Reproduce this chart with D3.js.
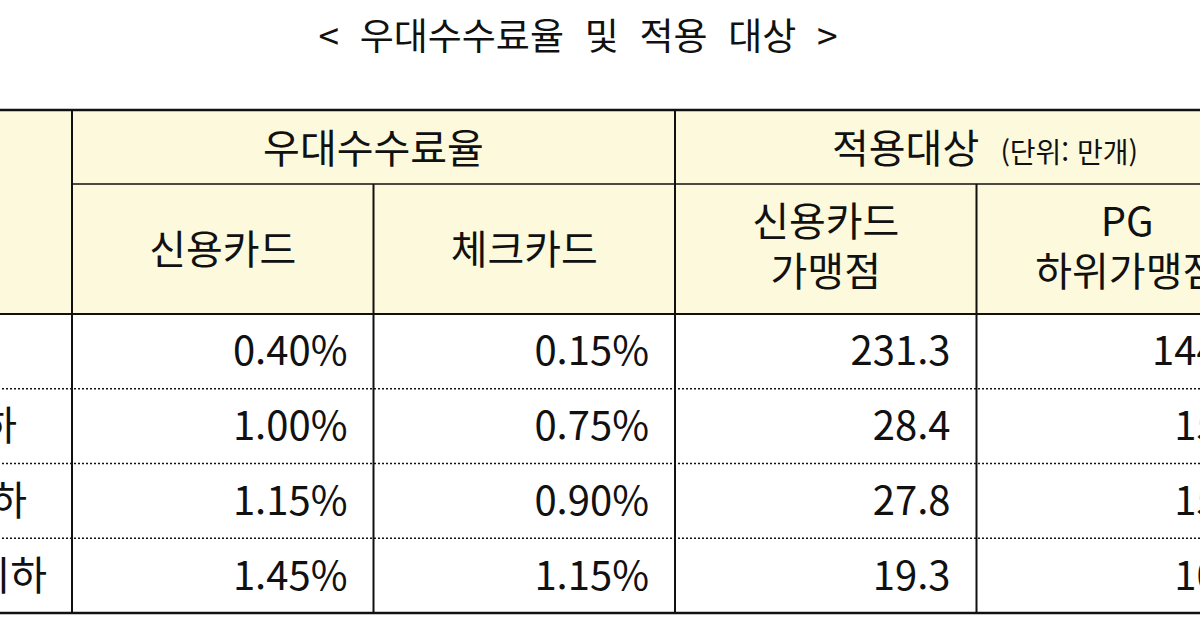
<!DOCTYPE html>
<html lang="ko">
<head>
<meta charset="UTF-8">
<title>우대수수료율 및 적용 대상</title>
<style>
  body { margin: 0; background: #fff; }
  svg { display: block; font-family: "Noto Sans CJK KR", sans-serif; }
</style>
</head>
<body>
<svg width="1200" height="630"></svg>
<script src="https://d3js.org/d3.v7.min.js"></script>
<script>
  // table data
  const title = "<  우대수수료율  및  적용  대상  >";
  const rowLabels = ["영세", "3~5억원 이하", "5~10억원 이하", "10~30억원 이하"];
  const creditRate = ["0.40%", "1.00%", "1.15%", "1.45%"];
  const checkRate = ["0.15%", "0.75%", "0.90%", "1.15%"];
  const creditStores = ["231.3", "28.4", "27.8", "19.3"];
  const pgStores = ["144.2", "15.3", "15.1", "10.6"];
  const columns = ["신용카드", "체크카드", "신용카드\n가맹점", "PG\n하위가맹점"];

  const svg = d3.select("svg");
  const headFill = "#fdf9dc";

  // column edges: label column, 4 data columns
  const x = d3.scaleLinear().domain([0, 4]).range([72, 1278]);
  const colL = i => x(i), colR = i => x(i + 1);
  const tableTop = 110, h1 = 184, h2 = 314, tableBottom = 613;
  const y = d3.scaleBand().domain(d3.range(4)).range([h2, tableBottom]);

  svg.append("text").attr("x", 578).attr("y", 50).attr("text-anchor", "middle")
    .attr("font-size", 37).attr("fill", "#111").attr("xml:space", "preserve").text(title);

  // header background
  svg.append("rect").attr("x", -10).attr("y", tableTop).attr("width", 1300).attr("height", h2 - tableTop).attr("fill", headFill);

  const line = (x1, y1, x2, y2, w = 1.5, dash = null) =>
    svg.append("line").attr("x1", x1).attr("y1", y1).attr("x2", x2).attr("y2", y2)
      .attr("stroke", "#111").attr("stroke-width", w).attr("stroke-dasharray", dash);

  line(-10, tableTop, 1300, tableTop, 2.5);
  line(72, h1, 1300, h1, 1.5);
  line(-10, h2, 1300, h2, 2);
  line(-10, tableBottom, 1300, tableBottom, 2.5);
  d3.range(1, 4).forEach(i => line(-10, y(i), 1300, y(i), 1.5, "2,2"));
  line(72, tableTop, 72, tableBottom, 2);
  line(x(2), tableTop, x(2), tableBottom, 2);
  [1, 3].forEach(i => line(x(i), h1, x(i), tableBottom, 2));

  // group headers
  svg.append("text").attr("x", (x(0) + x(2)) / 2).attr("y", 163).attr("text-anchor", "middle")
    .attr("font-size", 40).attr("fill", "#111").text("우대수수료율");
  const g2 = svg.append("text").attr("x", 985).attr("y", 163).attr("text-anchor", "middle").attr("fill", "#111");
  g2.append("tspan").attr("font-size", 40).text("적용대상 ");
  g2.append("tspan").attr("font-size", 28).attr("dx", 10).text("(단위: 만개)");

  // column headers
  columns.forEach((c, i) => {
    const lines = c.split("\n");
    const cx = (colL(i) + colR(i)) / 2;
    const t = svg.append("text").attr("text-anchor", "middle").attr("font-size", 40).attr("fill", "#111");
    lines.forEach((l, j) => {
      t.append("tspan").attr("x", cx)
        .attr("y", lines.length === 1 ? 264 : 236 + j * 50).text(l);
    });
  });

  // row labels (mostly cropped at the left edge)
  const labelEnd = [-5, 17, 27, 47];
  rowLabels.forEach((l, r) => {
    svg.append("text").attr("x", labelEnd[r]).attr("y", y(r) + y.bandwidth() / 2 + 14)
      .attr("text-anchor", "end").attr("font-size", 40).attr("fill", "#111").text(l);
  });

  // values
  [creditRate, checkRate, creditStores, pgStores].forEach((vals, i) => {
    svg.selectAll(null).data(vals).join("text")
      .attr("x", colR(i) - 26)
      .attr("y", (d, r) => y(r) + y.bandwidth() / 2 + 14)
      .attr("text-anchor", "end").attr("font-size", 40).attr("fill", "#111")
      .text(d => d);
  });
</script>
</body>
</html>
